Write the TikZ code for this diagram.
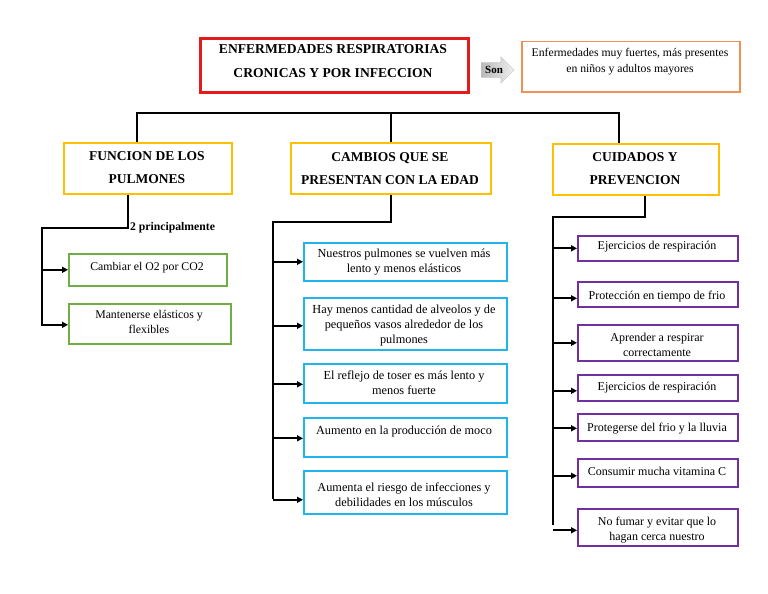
\documentclass[tikz,border=0pt]{standalone}
\usepackage{fontspec}
\setmainfont{Liberation Serif}
\usetikzlibrary{arrows.meta,shapes.arrows}
\definecolor{cred}{HTML}{E31B1B}
\definecolor{corange}{HTML}{EE9256}
\definecolor{cyel}{HTML}{FFC000}
\definecolor{cgreen}{HTML}{70AD47}
\definecolor{cblue}{HTML}{1FB4EA}
\definecolor{cpurp}{HTML}{7030A0}
\begin{document}
\begin{tikzpicture}[x=1pt,y=-1pt,
  box/.style={draw=#1, line width=1.6pt, inner sep=0pt, anchor=north west},
  txt/.style={anchor=north, inner sep=0pt, align=center, yshift=-2.5pt, font=\fontsize{12.3}{15}\selectfont},
  head/.style={anchor=north, inner sep=0pt, align=center, yshift=-2.5pt, font=\bfseries\fontsize{13.5}{23}\selectfont},
  conn/.style={line width=1.8pt},
  arr/.style={line width=1.8pt, -{Triangle[length=6pt,width=6pt]}}]
\useasboundingbox (0,0) rectangle (768,594);

% title
\node[box=cred, line width=2.6pt, minimum width=268pt, minimum height=54pt] (title) at (199,37) {};
\node[head, font=\bfseries\fontsize{13.6}{24}\selectfont] (titlet) at (333,42) {ENFERMEDADES RESPIRATORIAS\\CRONICAS Y POR INFECCION};
\node[single arrow, single arrow head extend=6pt, minimum height=33pt, inner sep=3.5pt,
      left color=gray!55, right color=gray!12, draw=gray!45, line width=0.4pt,
      font=\bfseries\fontsize{11}{12}\selectfont] (son) at (494,70) {Son};
\node[draw=corange, line width=1.5pt, inner sep=0pt, anchor=north west, minimum width=218pt, minimum height=50pt] (def) at (521,41) {};
\node[txt, font=\fontsize{11.7}{16}\selectfont] (deft) at (630,46) {Enfermedades muy fuertes, más presentes\\en niños y adultos mayores};

% categories
\node[box=cyel, minimum width=168pt, minimum height=51pt] (fun) at (63,142) {};
\node[head] (funt) at (147,149) {FUNCION DE LOS\\PULMONES};
\node[box=cyel, minimum width=200pt, minimum height=51pt] (cam) at (290,142) {};
\node[head] (camt) at (390,150) {CAMBIOS QUE SE\\PRESENTAN CON LA EDAD};
\node[box=cyel, minimum width=166pt, minimum height=51pt] (cui) at (552,143) {};
\node[head] (cuit) at (635,150) {CUIDADOS Y\\PREVENCION};

\draw[conn] ([xshift=-11pt]fun.north) -- ++(0,-29) -| ([xshift=-17pt]cui.north);
\draw[conn] (cam.north) -- ++(0,-29);

% funcion
\coordinate (lv) at (42,228);
\coordinate (lv2) at (42,326);
\draw[conn] ([xshift=-20pt]fun.south) |- (lv) -- (lv2);
\node[anchor=west, inner sep=0pt, font=\bfseries\fontsize{11.7}{13}\selectfont] (two) at (130,228) {2 principalmente};
\node[box=cgreen, minimum width=158pt, minimum height=32pt] (g1) at (68,253) {};
\node[txt, font=\fontsize{11.8}{15}\selectfont] (g1t) at (147,260) {Cambiar el O2 por CO2};
\node[box=cgreen, minimum width=162pt, minimum height=40pt] (g2) at (68,303) {};
\node[txt, font=\fontsize{11.8}{15}\selectfont] (g2t) at (149,308) {Mantenerse elásticos y\\flexibles};
\draw[arr] (lv |- g1.west) -- (g1.west);
\draw[arr] ([yshift=-1pt]lv |- g2.west) -- ([yshift=-1pt]g2.west);

% cambios
\coordinate (mv) at (273,222);
\coordinate (mv2) at (273,499);
\draw[conn] (cam.south) |- (mv) -- (mv2);
\node[box=cblue, minimum width=203pt, minimum height=38pt] (b1) at (303,242) {};
\node[txt] (b1t) at (404,246) {Nuestros pulmones se vuelven más\\lento y menos elásticos};
\node[box=cblue, minimum width=203pt, minimum height=52pt] (b2) at (303,297) {};
\node[txt] (b2t) at (404,302) {Hay menos cantidad de alveolos y de\\pequeños vasos alrededor de los\\pulmones};
\node[box=cblue, minimum width=203pt, minimum height=39pt] (b3) at (303,363) {};
\node[txt] (b3t) at (404,368) {El reflejo de toser es más lento y\\menos fuerte};
\node[box=cblue, minimum width=203pt, minimum height=39pt] (b4) at (303,417) {};
\node[txt] (b4t) at (404,423) {Aumento en la producción de moco};
\node[box=cblue, minimum width=203pt, minimum height=43pt] (b5) at (303,470) {};
\node[txt] (b5t) at (404,480) {Aumenta el riesgo de infecciones y\\debilidades en los músculos};
\draw[arr] (mv |- b1.west) -- (b1.west);
\draw[arr] ([yshift=-2pt]mv |- b2.west) -- ([yshift=-2pt]b2.west);
\draw[arr] ([yshift=-1pt]mv |- b3.west) -- ([yshift=-1pt]b3.west);
\draw[arr] ([yshift=-1pt]mv |- b4.west) -- ([yshift=-1pt]b4.west);
\draw[arr] ([yshift=-7.5pt]mv |- b5.west) -- ([yshift=-7.5pt]b5.west);

% cuidados
\coordinate (rv) at (553,217);
\coordinate (rv2) at (553,525);
\draw[conn] ([xshift=9pt]cui.south) |- (rv) -- (rv2);
\tikzset{ptxt/.style={txt, font=\fontsize{12}{15}\selectfont}}
\node[box=cpurp, minimum width=160pt, minimum height=25pt] (p1) at (577,235) {};
\node[ptxt] (p1t) at (657,238) {Ejercicios de respiración};
\node[box=cpurp, minimum width=160pt, minimum height=25pt] (p2) at (577,281) {};
\node[ptxt] (p2t) at (657,288) {Protección en tiempo de frio};
\node[box=cpurp, minimum width=160pt, minimum height=36pt] (p3) at (577,324) {};
\node[ptxt] (p3t) at (657,330) {Aprender a respirar\\correctamente};
\node[box=cpurp, minimum width=160pt, minimum height=26pt] (p4) at (577,374) {};
\node[ptxt] (p4t) at (657,379) {Ejercicios de respiración};
\node[box=cpurp, minimum width=160pt, minimum height=27pt] (p5) at (577,413) {};
\node[ptxt] (p5t) at (657,420) {Protegerse del frio y la lluvia};
\node[box=cpurp, minimum width=160pt, minimum height=28pt] (p6) at (577,458) {};
\node[ptxt] (p6t) at (657,464) {Consumir mucha vitamina C};
\node[box=cpurp, minimum width=160pt, minimum height=37pt] (p7) at (577,508) {};
\node[ptxt] (p7t) at (657,514) {No fumar y evitar que lo\\hagan cerca nuestro};
\draw[arr] (rv |- p1.west) -- (p1.west);
\draw[arr] ([yshift=-4pt]rv |- p2.west) -- ([yshift=-4pt]p2.west);
\draw[arr] (rv |- p3.west) -- (p3.west);
\draw[arr] ([yshift=-3pt]rv |- p4.west) -- ([yshift=-3pt]p4.west);
\draw[arr] ([yshift=-1pt]rv |- p5.west) -- ([yshift=-1pt]p5.west);
\draw[arr] ([yshift=-3pt]rv |- p6.west) -- ([yshift=-3pt]p6.west);
\draw[arr] ([yshift=-3pt]rv |- p7.west) -- ([yshift=-3pt]p7.west);
\end{tikzpicture}
\end{document}
